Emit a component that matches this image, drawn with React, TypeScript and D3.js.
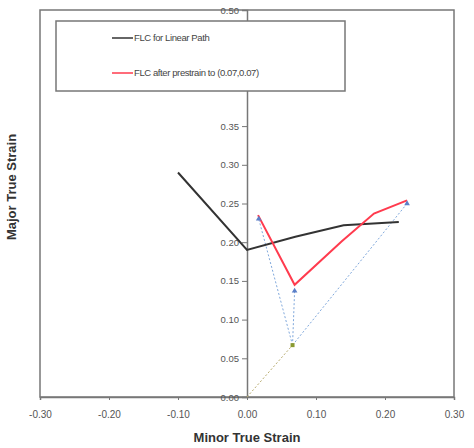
import React, { useEffect, useRef } from 'react'
import * as d3 from 'd3'

// FLC for linear strain path
const linearMinor = [-0.10, 0.00, 0.07, 0.14, 0.22]
const linearMajor = [0.29, 0.19, 0.207, 0.222, 0.226]

// FLC after prestrain to (0.07, 0.07)
const preMinor = [0.016, 0.069, 0.137, 0.184, 0.232]
const preMajor = [0.235, 0.145, 0.201, 0.237, 0.254]

// limit strain points (blue triangles)
const limitMinor = [0.017, 0.069, 0.232]
const limitMajor = [0.23, 0.137, 0.25]

// prestrain point
const prestrainMinor = 0.066
const prestrainMajor = 0.067

const xTicks = [-0.3, -0.2, -0.1, 0, 0.1, 0.2, 0.3]
const yTicks = [0, 0.05, 0.1, 0.15, 0.2, 0.25, 0.3, 0.35, 0.4, 0.45, 0.5]

const legendLabels = ['FLC for Linear Path', 'FLC after prestrain to (0.07,0.07)']

const fmt = (d: d3.NumberValue) => d3.format('.2f')(d).replace('\u2212', '-')

const App: React.FC = () => {
    const ref = useRef<SVGSVGElement | null>(null)

    useEffect(() => {
        if (!ref.current) return
        const width = 474
        const height = 448
        const left = 40, right = 454, top = 10, bottom = 397
        const font = 'Liberation Sans, Arial, sans-serif'

        const svg = d3.select(ref.current)
        svg.selectAll('*').remove()

        const x = d3.scaleLinear().domain([-0.3, 0.3]).range([left, right])
        const y = d3.scaleLinear().domain([0, 0.5]).range([bottom, top])

        svg.append('rect').attr('width', width).attr('height', height).attr('fill', '#fff')

        // plot frame
        svg.append('rect')
            .attr('x', left).attr('y', top)
            .attr('width', right - left).attr('height', bottom - top)
            .attr('fill', 'none').attr('stroke', '#777').attr('stroke-width', 1.5)

        // x axis at y = 0
        svg.append('g')
            .attr('transform', `translate(0,${y(0)})`)
            .call(d3.axisBottom(x).tickValues(xTicks).tickSize(3).tickFormat(fmt))
            .call(g => g.select('.domain').attr('stroke', '#777').attr('stroke-width', 1.5))
            .call(g => g.selectAll('.tick line').attr('stroke', '#777'))
            .call(g => g.selectAll('.tick text').attr('fill', '#555').attr('font-size', 10)
                .attr('font-family', font).attr('dy', '1.45em'))

        // y axis at x = 0
        svg.append('g')
            .attr('transform', `translate(${x(0)},0)`)
            .call(d3.axisLeft(y).tickValues(yTicks).tickSize(5).tickFormat(fmt))
            .call(g => g.select('.domain').attr('stroke', '#777').attr('stroke-width', 1.5))
            .call(g => g.selectAll('.tick line').attr('stroke', '#777'))
            .call(g => g.selectAll('.tick text').attr('fill', '#555').attr('font-size', 9.5)
                .attr('font-family', font).attr('x', -8))

        const line = d3.line<[number, number]>().x(d => x(d[0])).y(d => y(d[1]))
        const pre: [number, number] = [prestrainMinor, prestrainMajor]

        // dotted path from origin to prestrain point
        svg.append('path')
            .attr('d', line([[0, 0], pre]))
            .attr('fill', 'none').attr('stroke', '#b8ac70').attr('stroke-width', 1)
            .attr('stroke-dasharray', '2,2')

        // dotted paths from prestrain to limit strains
        limitMinor.forEach((m, i) => {
            svg.append('path')
                .attr('d', line([pre, [m, limitMajor[i]]]))
                .attr('fill', 'none').attr('stroke', '#7fa8dc').attr('stroke-width', 1)
                .attr('stroke-dasharray', '2,2')
        })

        // linear path FLC
        svg.append('path')
            .attr('d', line(linearMinor.map((m, i) => [m, linearMajor[i]] as [number, number])))
            .attr('fill', 'none').attr('stroke', '#333').attr('stroke-width', 2)

        // FLC after prestrain
        svg.append('path')
            .attr('d', line(preMinor.map((m, i) => [m, preMajor[i]] as [number, number])))
            .attr('fill', 'none').attr('stroke', '#ff3b4e').attr('stroke-width', 2)

        // limit strain markers
        svg.selectAll('.limit')
            .data(limitMinor.map((m, i) => [m, limitMajor[i]]))
            .join('path')
            .attr('class', 'limit')
            .attr('transform', d => `translate(${x(d[0])},${y(d[1])})`)
            .attr('d', d3.symbol(d3.symbolTriangle, 14)())
            .attr('fill', '#5a7fc8')

        svg.append('rect')
            .attr('x', x(prestrainMinor) - 2).attr('y', y(prestrainMajor) - 2)
            .attr('width', 4).attr('height', 4)
            .attr('fill', '#8a9a30')

        // legend
        const legend = svg.append('g')
        legend.append('rect')
            .attr('x', 56).attr('y', 21).attr('width', 289).attr('height', 70)
            .attr('fill', '#fff').attr('stroke', '#777').attr('stroke-width', 1.5)
        const legendColors = ['#333', '#ff3b4e']
        legendLabels.forEach((lab, i) => {
            const ly = 38 + i * 35
            legend.append('line')
                .attr('x1', 112).attr('x2', 133).attr('y1', ly).attr('y2', ly)
                .attr('stroke', legendColors[i]).attr('stroke-width', 1.5)
            legend.append('text')
                .attr('x', 134).attr('y', ly).attr('dy', '0.35em')
                .attr('font-size', 9.5).attr('font-family', font).attr('fill', '#444')
                .attr('letter-spacing', -0.4)
                .text(lab)
        })

        // axis titles
        svg.append('text')
            .attr('x', (left + right) / 2).attr('y', 442)
            .attr('text-anchor', 'middle')
            .attr('font-size', 13).attr('font-weight', 'bold').attr('font-family', font).attr('fill', '#333')
            .text('Minor True Strain')
        svg.append('text')
            .attr('transform', 'rotate(-90)')
            .attr('x', -187).attr('y', 16)
            .attr('text-anchor', 'middle')
            .attr('font-size', 13).attr('font-weight', 'bold').attr('font-family', font).attr('fill', '#333')
            .text('Major True Strain')
    }, [])

    return <svg ref={ref} width={474} height={448} style={{ position: 'absolute', left: 0, top: 0, display: 'block' }}></svg>
}

export default App
